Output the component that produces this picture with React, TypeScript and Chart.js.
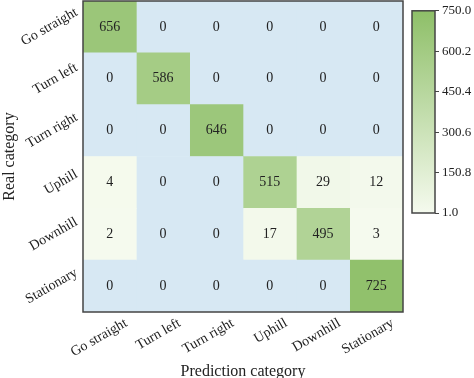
import React, { useEffect, useRef } from "react";
import { Chart, registerables } from "chart.js";

Chart.register(...registerables);

const rowLabels = ["Go straight", "Turn left", "Turn right", "Uphill", "Downhill", "Stationary"];
const colLabels = ["Go straight", "Turn left", "Turn right", "Uphill", "Downhill", "Stationary"];
const row0 = [656, 0, 0, 0, 0, 0];
const row1 = [0, 586, 0, 0, 0, 0];
const row2 = [0, 0, 646, 0, 0, 0];
const row3 = [4, 0, 0, 515, 29, 12];
const row4 = [2, 0, 0, 17, 495, 3];
const row5 = [0, 0, 0, 0, 0, 725];
const matrix = [row0, row1, row2, row3, row4, row5];
const vmin = 1.0;
const vmax = 750.0;
const cbTicks = [1.0, 150.8, 300.6, 450.4, 600.2, 750.0];

const FONT = "'Liberation Serif', 'Times New Roman', serif";
const LOW = [245, 250, 238];
const HIGH = [142, 191, 104];
const ZERO = "#d7e8f3";
const ANGLE = (30 * Math.PI) / 180;

function colorFor(v: number): string {
  if (v < vmin) return ZERO;
  const t = Math.min(1, Math.max(0, (v - vmin) / (vmax - vmin)));
  const c = LOW.map((l, i) => Math.round(l + (HIGH[i] - l) * t));
  return `rgb(${c[0]},${c[1]},${c[2]})`;
}

const borderPlugin = {
  id: "frameBorder",
  afterDraw(chart: any) {
    const { ctx, chartArea } = chart;
    ctx.save();
    ctx.strokeStyle = "#444";
    ctx.lineWidth = 1.5;
    ctx.strokeRect(chartArea.left, chartArea.top, chartArea.right - chartArea.left, chartArea.bottom - chartArea.top);
    ctx.restore();
  },
};

const cellTextPlugin = {
  id: "cellText",
  afterDatasetsDraw(chart: any) {
    const { ctx } = chart;
    const xs = chart.scales.x;
    const ys = chart.scales.y;
    ctx.save();
    ctx.font = `14px ${FONT}`;
    ctx.fillStyle = "#222";
    ctx.textAlign = "center";
    ctx.textBaseline = "middle";
    matrix.forEach((row, i) => {
      row.forEach((v, j) => {
        ctx.fillText(String(v), xs.getPixelForValue(j + 0.5), ys.getPixelForValue(i));
      });
    });
    ctx.restore();
  },
};

// rotated tick labels placed like matplotlib (bounding-box alignment)
const tickLabelPlugin = {
  id: "rotTicks",
  afterDraw(chart: any) {
    const { ctx, chartArea } = chart;
    const xs = chart.scales.x;
    const ys = chart.scales.y;
    ctx.save();
    ctx.font = `14px ${FONT}`;
    ctx.fillStyle = "#222";
    ctx.textAlign = "center";
    ctx.textBaseline = "middle";
    const h = 14;
    const cos = Math.cos(ANGLE);
    const sin = Math.sin(ANGLE);
    rowLabels.forEach((lab, i) => {
      const w = ctx.measureText(lab).width;
      const W = w * cos + h * sin;
      const cx = chartArea.left - 3 - W / 2;
      const cy = ys.getPixelForValue(i);
      ctx.save();
      ctx.translate(cx, cy);
      ctx.rotate(-ANGLE);
      ctx.fillText(lab, 0, 0);
      ctx.restore();
    });
    colLabels.forEach((lab, j) => {
      const w = ctx.measureText(lab).width;
      const W = w * cos + h * sin;
      const H = w * sin + h * cos;
      const cx = xs.getPixelForValue(j + 0.5) + 20 - W / 2;
      const cy = chartArea.bottom + 4 + H / 2;
      ctx.save();
      ctx.translate(cx, cy);
      ctx.rotate(-ANGLE);
      ctx.fillText(lab, 0, 0);
      ctx.restore();
    });
    ctx.restore();
  },
};

export default function App() {
  const mainRef = useRef<HTMLCanvasElement>(null);
  const cbRef = useRef<HTMLCanvasElement>(null);

  useEffect(() => {
    const datasets = colLabels.map((_, j) => ({
      label: colLabels[j],
      data: rowLabels.map(() => 1),
      backgroundColor: matrix.map((row) => colorFor(row[j])),
      borderWidth: 0,
      barPercentage: 1,
      categoryPercentage: 1,
    }));
    const main = new Chart(mainRef.current!, {
      type: "bar",
      data: { labels: rowLabels, datasets },
      options: {
        indexAxis: "y",
        responsive: false,
        animation: false,
        layout: { padding: { left: 0, top: 1, right: 71, bottom: -3 } },
        plugins: { legend: { display: false }, tooltip: { enabled: false } },
        scales: {
          x: {
            type: "linear",
            stacked: true,
            min: 0,
            max: 6,
            grid: { display: false },
            border: { display: false },
            afterBuildTicks: (s: any) => {
              s.ticks = colLabels.map((_, j) => ({ value: j + 0.5 }));
            },
            afterFit: (s: any) => {
              s.height = 69;
            },
            ticks: { display: false },
            title: {
              display: true,
              text: "Prediction category",
              color: "#222",
              font: { family: FONT, size: 16 },
              padding: { top: 0, bottom: 0 },
            },
          },
          y: {
            type: "category",
            stacked: true,
            grid: { display: false },
            border: { display: false },
            afterFit: (s: any) => {
              s.width = 83;
            },
            ticks: { display: false },
            title: {
              display: true,
              text: "Real category",
              color: "#222",
              font: { family: FONT, size: 16 },
              padding: { top: 0, bottom: 0 },
            },
          },
        },
      },
      plugins: [cellTextPlugin, borderPlugin, tickLabelPlugin],
    } as any);

    const cb = new Chart(cbRef.current!, {
      type: "bar",
      data: {
        labels: ["scale"],
        datasets: [
          {
            data: [[vmin, vmax]],
            borderWidth: 0,
            barPercentage: 1,
            categoryPercentage: 1,
            backgroundColor: (c: any) => {
              const area = c.chart.chartArea;
              if (!area) return colorFor(vmax);
              const g = c.chart.ctx.createLinearGradient(0, area.bottom, 0, area.top);
              g.addColorStop(0, colorFor(vmin));
              g.addColorStop(1, colorFor(vmax));
              return g;
            },
          },
        ],
      },
      options: {
        responsive: false,
        animation: false,
        layout: { padding: { left: 12, top: 10, right: 0, bottom: 17 } },
        plugins: { legend: { display: false }, tooltip: { enabled: false } },
        scales: {
          x: { display: false },
          y: {
            position: "right",
            min: vmin,
            max: vmax,
            grid: { drawOnChartArea: false, drawTicks: true, tickLength: 4, color: "#444" },
            border: { display: false },
            afterBuildTicks: (s: any) => {
              s.ticks = cbTicks.map((v) => ({ value: v }));
            },
            afterFit: (s: any) => {
              s.width = 39;
            },
            ticks: {
              padding: 3,
              color: "#222",
              font: { family: FONT, size: 13 },
              callback: (v: any) => Number(v).toFixed(1),
            },
          },
        },
      },
      plugins: [borderPlugin],
    } as any);

    return () => {
      main.destroy();
      cb.destroy();
    };
  }, []);

  return (
    <div style={{ position: "fixed", left: 0, top: 0, width: 474, height: 378, background: "#fff" }}>
      <canvas ref={mainRef} width={474} height={378} style={{ position: "absolute", left: 0, top: 0 }} />
      <canvas ref={cbRef} width={74} height={230} style={{ position: "absolute", left: 400, top: 0 }} />
    </div>
  );
}
